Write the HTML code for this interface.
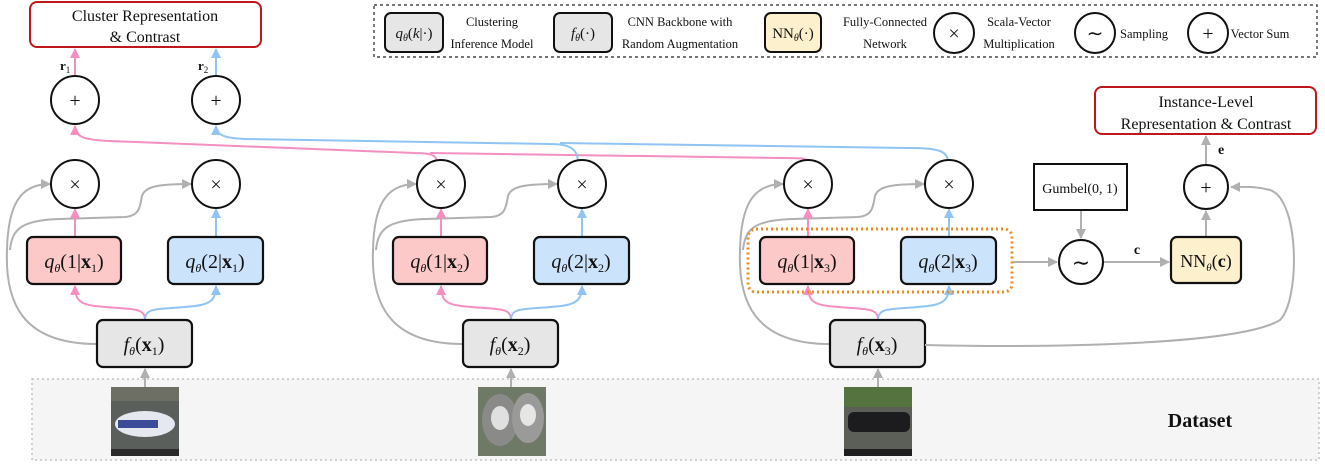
<!DOCTYPE html>
<html><head><meta charset="utf-8"><style>
html,body{margin:0;padding:0;background:#fff;}
svg{display:block;}
text{font-family:"Liberation Serif",serif;fill:#111;}
.m{font-style:italic;}
</style></head><body>
<svg width="1325" height="464" viewBox="0 0 1325 464" xmlns="http://www.w3.org/2000/svg">
<defs>
<marker id="ag" viewBox="0 0 10 10" refX="9" refY="5" markerWidth="5" markerHeight="5" orient="auto"><path d="M0,0L10,5L0,10z" fill="#b0b0b0"/></marker>
<marker id="ap" viewBox="0 0 10 10" refX="9" refY="5" markerWidth="5" markerHeight="5" orient="auto"><path d="M0,0L10,5L0,10z" fill="#f48fc0"/></marker>
<marker id="ab" viewBox="0 0 10 10" refX="9" refY="5" markerWidth="5" markerHeight="5" orient="auto"><path d="M0,0L10,5L0,10z" fill="#90c4f4"/></marker>
</defs>

<rect x="32" y="379" width="1287" height="81" fill="#f5f5f5" stroke="#c4c4c4" stroke-width="1.5" stroke-dasharray="2,3"/>
<text x="1200" y="427" font-size="20" font-weight="bold" text-anchor="middle">Dataset</text>
<g>
<rect x="111" y="387" width="68" height="69" fill="#5a5f5c"/>
<rect x="111" y="387" width="68" height="14" fill="#6d6f64"/>
<ellipse cx="145" cy="424" rx="30" ry="13" fill="#e6e8f0"/>
<rect x="118" y="420" width="40" height="8" fill="#3c4a9a"/>
<rect x="111" y="449" width="68" height="7" fill="#2a2a2a"/>
<rect x="478" y="387" width="68" height="69" fill="#6f7a66"/>
<ellipse cx="500" cy="420" rx="18" ry="26" fill="#8a8a88"/>
<ellipse cx="528" cy="418" rx="16" ry="25" fill="#9a9a98"/>
<ellipse cx="500" cy="418" rx="9" ry="12" fill="#e0e0e0"/>
<ellipse cx="528" cy="415" rx="8" ry="11" fill="#e6e6e6"/>
<rect x="844" y="387" width="68" height="69" fill="#5c5e58"/>
<rect x="844" y="387" width="68" height="20" fill="#55733e"/>
<rect x="848" y="412" width="62" height="20" rx="6" fill="#1c1c1e"/>
<rect x="844" y="449" width="68" height="7" fill="#1e1e1e"/>
</g>

<rect x="374" y="5" width="943" height="52" fill="none" stroke="#222" stroke-width="1.2" stroke-dasharray="3,3"/>
<rect x="385" y="13" width="58" height="39" rx="6" fill="#e6e6e6" stroke="#111" stroke-width="2"/>
<text x="414" y="38" font-size="15" text-anchor="middle" class="m">q<tspan font-size="10" dy="3">θ</tspan><tspan dy="-3" font-style="normal">(</tspan>k<tspan font-style="normal">|·)</tspan></text>
<text x="492" y="26" font-size="12.5" text-anchor="middle">Clustering</text>
<text x="492" y="48" font-size="12.5" text-anchor="middle">Inference Model</text>
<rect x="554" y="13" width="58" height="39" rx="6" fill="#e6e6e6" stroke="#111" stroke-width="2"/>
<text x="583" y="38" font-size="15" text-anchor="middle" class="m">f<tspan font-size="10" dy="3">θ</tspan><tspan dy="-3" font-style="normal">(·)</tspan></text>
<text x="680" y="26" font-size="12.5" text-anchor="middle">CNN Backbone with</text>
<text x="680" y="48" font-size="12.5" text-anchor="middle">Random Augmentation</text>
<rect x="765" y="13" width="56" height="39" rx="6" fill="#fdf0cc" stroke="#111" stroke-width="2"/>
<text x="793" y="38" font-size="15" text-anchor="middle">NN<tspan font-size="10" dy="3" class="m">θ</tspan><tspan dy="-3">(·)</tspan></text>
<text x="885" y="26" font-size="12.5" text-anchor="middle">Fully-Connected</text>
<text x="885" y="48" font-size="12.5" text-anchor="middle">Network</text>
<circle cx="954" cy="33" r="20" fill="#fff" stroke="#111" stroke-width="2"/>
<text x="954" y="40" font-size="20" text-anchor="middle">×</text>
<text x="1019" y="26" font-size="12.5" text-anchor="middle">Scala-Vector</text>
<text x="1019" y="48" font-size="12.5" text-anchor="middle">Multiplication</text>
<circle cx="1095" cy="33" r="20" fill="#fff" stroke="#111" stroke-width="2"/>
<text x="1095" y="40" font-size="20" text-anchor="middle">∼</text>
<text x="1144" y="38" font-size="12.5" text-anchor="middle">Sampling</text>
<circle cx="1208" cy="33" r="20" fill="#fff" stroke="#111" stroke-width="2"/>
<text x="1208" y="40" font-size="20" text-anchor="middle">+</text>
<text x="1260" y="38" font-size="12.5" text-anchor="middle">Vector Sum</text>

<rect x="30" y="2" width="231" height="45" rx="7" fill="#fff" stroke="#c0161c" stroke-width="2"/>
<text x="145" y="21" font-size="16" text-anchor="middle">Cluster Representation</text>
<text x="145" y="42" font-size="16" text-anchor="middle">&amp; Contrast</text>
<rect x="1095" y="87" width="221" height="47" rx="7" fill="#fff" stroke="#c0161c" stroke-width="2"/>
<text x="1206" y="107" font-size="16" text-anchor="middle">Instance-Level</text>
<text x="1206" y="129" font-size="16" text-anchor="middle">Representation &amp; Contrast</text>

<g fill="none" stroke-width="2">
<path d="M437,162 C437,155 430,153 415,153 L110,141 C82,140 75,136 75,126" stroke="#f48fc0" marker-end="url(#ap)"/>
<path d="M808,162 C808,158 800,158 780,158 L430,153" stroke="#f48fc0"/>
<path d="M578,162 C578,148 568,144 550,144 L245,139 C222,138 216,134 216,126" stroke="#90c4f4" marker-end="url(#ab)"/>
<path d="M948,162 C948,151 938,148 910,148 L560,143" stroke="#90c4f4"/>
<path d="M75,76 L75,49" stroke="#f48fc0" marker-end="url(#ap)"/>
<path d="M216,76 L216,49" stroke="#90c4f4" marker-end="url(#ab)"/>
</g>
<text x="60" y="70" font-size="13" font-weight="bold">r<tspan font-size="9" dy="3" font-weight="normal">1</tspan></text>
<text x="198" y="70" font-size="13" font-weight="bold">r<tspan font-size="9" dy="3" font-weight="normal">2</tspan></text>

<g id="grp">
<g fill="none" stroke-width="2">
<path d="M97,344 C20,344 5,300 7,250 C8,205 20,184 50,184" stroke="#b0b0b0" marker-end="url(#ag)"/>
<path d="M10,250 C12,230 20,220 60,219 L125,217 C140,216 140,206 142,196 C145,186 160,184 191,184" stroke="#b0b0b0" marker-end="url(#ag)"/>
<path d="M145,320 C145,306 130,310 95,306 C78,304 75,298 75,286" stroke="#f48fc0" marker-end="url(#ap)"/>
<path d="M145,320 C145,306 160,310 195,306 C212,304 216,298 216,286" stroke="#90c4f4" marker-end="url(#ab)"/>
<path d="M75,237 L75,209" stroke="#f48fc0" marker-end="url(#ap)"/>
<path d="M216,237 L216,209" stroke="#90c4f4" marker-end="url(#ab)"/>
<path d="M145,387 L145,369" stroke="#b0b0b0" marker-end="url(#ag)"/>
</g>
<circle cx="75" cy="184" r="24" fill="#fff" stroke="#111" stroke-width="2"/>
<text x="75" y="191" font-size="20" text-anchor="middle">×</text>
<circle cx="216" cy="184" r="24" fill="#fff" stroke="#111" stroke-width="2"/>
<text x="216" y="191" font-size="20" text-anchor="middle">×</text>
<rect x="27" y="237" width="94" height="47" rx="6" fill="#fcc8c8" stroke="#111" stroke-width="2.2"/>
<rect x="168" y="237" width="95" height="47" rx="6" fill="#cce4fb" stroke="#111" stroke-width="2.2"/>
<rect x="97" y="320" width="95" height="47" rx="6" fill="#e6e6e6" stroke="#111" stroke-width="2.2"/>
</g>
<use href="#grp" x="366"/>
<use href="#grp" x="733"/>

<g font-size="20">
<text x="74" y="268" text-anchor="middle"><tspan class="m">q</tspan><tspan font-size="12" dy="4" class="m">θ</tspan><tspan dy="-4">(1|</tspan><tspan font-weight="bold">x</tspan><tspan font-size="12" dy="4">1</tspan><tspan dy="-4">)</tspan></text>
<text x="215" y="268" text-anchor="middle"><tspan class="m">q</tspan><tspan font-size="12" dy="4" class="m">θ</tspan><tspan dy="-4">(2|</tspan><tspan font-weight="bold">x</tspan><tspan font-size="12" dy="4">1</tspan><tspan dy="-4">)</tspan></text>
<text x="144" y="351" text-anchor="middle"><tspan class="m">f</tspan><tspan font-size="12" dy="4" class="m">θ</tspan><tspan dy="-4">(</tspan><tspan font-weight="bold">x</tspan><tspan font-size="12" dy="4">1</tspan><tspan dy="-4">)</tspan></text>
<text x="440" y="268" text-anchor="middle"><tspan class="m">q</tspan><tspan font-size="12" dy="4" class="m">θ</tspan><tspan dy="-4">(1|</tspan><tspan font-weight="bold">x</tspan><tspan font-size="12" dy="4">2</tspan><tspan dy="-4">)</tspan></text>
<text x="581" y="268" text-anchor="middle"><tspan class="m">q</tspan><tspan font-size="12" dy="4" class="m">θ</tspan><tspan dy="-4">(2|</tspan><tspan font-weight="bold">x</tspan><tspan font-size="12" dy="4">2</tspan><tspan dy="-4">)</tspan></text>
<text x="510" y="351" text-anchor="middle"><tspan class="m">f</tspan><tspan font-size="12" dy="4" class="m">θ</tspan><tspan dy="-4">(</tspan><tspan font-weight="bold">x</tspan><tspan font-size="12" dy="4">2</tspan><tspan dy="-4">)</tspan></text>
<text x="807" y="268" text-anchor="middle"><tspan class="m">q</tspan><tspan font-size="12" dy="4" class="m">θ</tspan><tspan dy="-4">(1|</tspan><tspan font-weight="bold">x</tspan><tspan font-size="12" dy="4">3</tspan><tspan dy="-4">)</tspan></text>
<text x="948" y="268" text-anchor="middle"><tspan class="m">q</tspan><tspan font-size="12" dy="4" class="m">θ</tspan><tspan dy="-4">(2|</tspan><tspan font-weight="bold">x</tspan><tspan font-size="12" dy="4">3</tspan><tspan dy="-4">)</tspan></text>
<text x="877" y="351" text-anchor="middle"><tspan class="m">f</tspan><tspan font-size="12" dy="4" class="m">θ</tspan><tspan dy="-4">(</tspan><tspan font-weight="bold">x</tspan><tspan font-size="12" dy="4">3</tspan><tspan dy="-4">)</tspan></text>
</g>

<circle cx="75" cy="100" r="24" fill="#fff" stroke="#111" stroke-width="2"/>
<text x="75" y="107" font-size="20" text-anchor="middle">+</text>
<circle cx="216" cy="100" r="24" fill="#fff" stroke="#111" stroke-width="2"/>
<text x="216" y="107" font-size="20" text-anchor="middle">+</text>

<rect x="748" y="229" width="264" height="63" rx="8" fill="none" stroke="#f08a1c" stroke-width="3" stroke-dasharray="2,3"/>

<g fill="none" stroke="#b0b0b0" stroke-width="2">
<path d="M1013,262 L1057,262" marker-end="url(#ag)"/>
<path d="M1103,262 L1169,262" marker-end="url(#ag)"/>
<path d="M1081,210 L1081,238" marker-end="url(#ag)"/>
<path d="M1206,237 L1206,211" marker-end="url(#ag)"/>
<path d="M1206,165 L1206,136" marker-end="url(#ag)"/>
<path d="M925,345 C1050,348 1240,345 1280,320 C1300,300 1300,200 1270,190 C1255,186 1245,187 1231,187" marker-end="url(#ag)"/>
</g>
<rect x="1034" y="164" width="93" height="46" fill="#fff" stroke="#111" stroke-width="2"/>
<text x="1080" y="193" font-size="14" text-anchor="middle">Gumbel(0, 1)</text>
<circle cx="1081" cy="262" r="22" fill="#fff" stroke="#111" stroke-width="2"/>
<text x="1081" y="270" font-size="22" text-anchor="middle">∼</text>
<text x="1137" y="254" font-size="14" font-weight="bold" text-anchor="middle">c</text>
<rect x="1171" y="237" width="70" height="46" rx="6" fill="#fdf0cc" stroke="#111" stroke-width="2.2"/>
<text x="1206" y="267" font-size="18" text-anchor="middle">NN<tspan font-size="11" dy="4" class="m">θ</tspan><tspan dy="-4">(</tspan><tspan font-weight="bold">c</tspan>)</text>
<circle cx="1206" cy="187" r="22" fill="#fff" stroke="#111" stroke-width="2"/>
<text x="1206" y="194" font-size="20" text-anchor="middle">+</text>
<text x="1218" y="154" font-size="14" font-weight="bold">e</text>
</svg>
</body></html>
